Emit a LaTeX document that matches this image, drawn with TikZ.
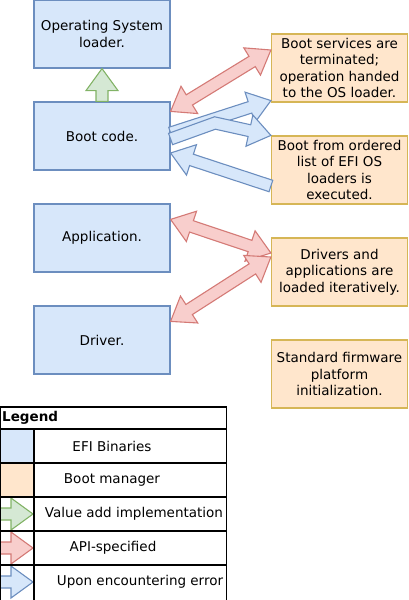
\documentclass[tikz,border=0pt]{standalone}
\usepackage{fontspec}
\setmainfont{DejaVu Sans}
\usetikzlibrary{calc}
\definecolor{efifill}{HTML}{D7E7FA}
\definecolor{efiline}{HTML}{6C8EBF}
\definecolor{mgrfill}{HTML}{FFE6CC}
\definecolor{mgrline}{HTML}{D6B656}
\definecolor{addfill}{HTML}{D5E8D4}
\definecolor{addline}{HTML}{82B366}
\definecolor{apifill}{HTML}{F8CECC}
\definecolor{apiline}{HTML}{D47A76}
\def\arrbody{6}
\def\arrhead{16}
\def\arrlen{22}
\newcommand{\flexarrow}[3]{%
	\draw[#1] let \p1=($(#3)-(#2)$), \n1={atan2(\y1,\x1)} in
		($(#2)+({\n1+90}:\arrbody)$) -- ($(#3)+({\n1+180}:\arrlen)+({\n1+90}:\arrbody)$) -- ($(#3)+({\n1+180}:\arrlen)+({\n1+90}:\arrhead)$) -- (#3)
		-- ($(#3)+({\n1+180}:\arrlen)+({\n1-90}:\arrhead)$) -- ($(#3)+({\n1+180}:\arrlen)+({\n1-90}:\arrbody)$) -- ($(#2)+({\n1-90}:\arrbody)$) -- cycle;}
\newcommand{\dflexarrow}[3]{%
	\draw[#1] let \p1=($(#3)-(#2)$), \n1={atan2(\y1,\x1)} in
		(#2) -- ($(#2)+(\n1:\arrlen)+({\n1+90}:\arrhead)$) -- ($(#2)+(\n1:\arrlen)+({\n1+90}:\arrbody)$)
		-- ($(#3)+({\n1+180}:\arrlen)+({\n1+90}:\arrbody)$) -- ($(#3)+({\n1+180}:\arrlen)+({\n1+90}:\arrhead)$) -- (#3)
		-- ($(#3)+({\n1+180}:\arrlen)+({\n1-90}:\arrhead)$) -- ($(#3)+({\n1+180}:\arrlen)+({\n1-90}:\arrbody)$)
		-- ($(#2)+(\n1:\arrlen)+({\n1-90}:\arrbody)$) -- ($(#2)+(\n1:\arrlen)+({\n1-90}:\arrhead)$) -- cycle;}
\tikzset{
	box/.style={draw, line width=1.2pt, minimum width=136pt, minimum height=68pt, inner sep=0, align=center, font=\fontsize{13.5}{16.3}\selectfont},
	efi/.style={box, fill=efifill, draw=efiline},
	bootmgr/.style={box, fill=mgrfill, draw=mgrline},
	valueadd/.style={fill=addfill, draw=addline, line width=1.1pt, line join=miter},
	apispec/.style={fill=apifill, draw=apiline, line width=1.1pt, line join=miter},
	onerror/.style={fill=efifill, draw=efiline, line width=1.1pt, line join=miter},
	legline/.style={draw=black, line width=1.1pt},
	legtext/.style={font=\fontsize{13.5}{16}\selectfont}
}
\begin{document}
\begin{tikzpicture}[x=1pt, y=1pt]
	\useasboundingbox (0,0) rectangle (408,-600);
	\clip (0,0) rectangle (408,-600);
	\node[efi] (os) at (102,-34) {Operating System\\loader.};
	\node[efi] (boot) at (102,-136) {Boot code.};
	\node[efi] (app) at (102,-238) {Application.};
	\node[efi] (drv) at (102,-340) {Driver.};
	\node[bootmgr] (svc) at (339.5,-68) {Boot services are\\terminated;\\operation handed\\to the OS loader.};
	\node[bootmgr] (order) at (339.5,-170) {Boot from ordered\\list of EFI OS\\loaders is\\executed.};
	\node[bootmgr] (load) at (339.5,-272) {Drivers and\\applications are\\loaded iteratively.};
	\node[bootmgr] (init) at (339.5,-374) {Standard firmware\\platform\\initialization.};

	\flexarrow{valueadd}{boot.north}{os.south}
	\dflexarrow{apispec}{[yshift=-10pt]boot.north east}{[yshift=18pt]svc.west}
	\flexarrow{onerror}{[yshift=3pt]boot.east}{[yshift=2pt]svc.south west}
	\coordinate (b1) at ([yshift=-3pt]boot.east);
	\coordinate (b2) at (215,-123);
	\draw[onerror] let \p1=($(b2)-(b1)$), \p2=($(order.north west)-(b2)$), \n1={atan2(\y1,\x1)}, \n2={atan2(\y2,\x2)}, \n3={(\n1+\n2)/2}, \n4={\arrbody/cos((\n1-\n2)/2)} in
		($(b1)+({\n1+90}:\arrbody)$) -- ($(b2)+({\n3+90}:\n4)$) -- ($(order.north west)+({\n2+180}:\arrlen)+({\n2+90}:\arrbody)$) -- ($(order.north west)+({\n2+180}:\arrlen)+({\n2+90}:\arrhead)$) -- (order.north west)
		-- ($(order.north west)+({\n2+180}:\arrlen)+({\n2-90}:\arrhead)$) -- ($(order.north west)+({\n2+180}:\arrlen)+({\n2-90}:\arrbody)$) -- ($(b2)+({\n3-90}:\n4)$) -- ($(b1)+({\n1-90}:\arrbody)$) -- cycle;
	\flexarrow{onerror}{[yshift=-16pt]order.west}{[yshift=-17pt]boot.east}
	\dflexarrow{apispec}{[yshift=-16pt]app.north east}{[yshift=19pt]load.west}
	\dflexarrow{apispec}{[yshift=-16pt]drv.north east}{[yshift=15pt]load.west}

	\draw[efi] (0.5,-429) rectangle (34,-463);
	\draw[bootmgr] (0.5,-463) rectangle (34,-497);
	\foreach \sty [count=\i from 3] in {valueadd, apispec, onerror} {
		\coordinate (ls\i) at (-20,{-514-34*(\i-3)});
		\coordinate (le\i) at (33,{-514-34*(\i-3)});
		\flexarrow{\sty}{ls\i}{le\i}
	}
	\draw[legline] (0.5,-407) rectangle (226.5,-610);
	\foreach \y in {429, 463, 497, 531, 565} {
		\draw[legline] (0.5,-\y) -- (226.5,-\y);
	}
	\draw[legline] (34,-429) -- (34,-610);
	\node[legtext, font=\fontsize{13.5}{16}\selectfont\bfseries, anchor=west, inner sep=0] (legend) at (2,-418) {Legend};
	\foreach \lbl/\xc [count=\i] in {EFI Binaries/112, Boot manager/112, Value add implementation/134, API-specified/113, Upon encountering error/140} {
		\node[legtext] (leg\i) at (\xc,{-446-34*(\i-1)}) {\lbl};
	}
\end{tikzpicture}
\end{document}
